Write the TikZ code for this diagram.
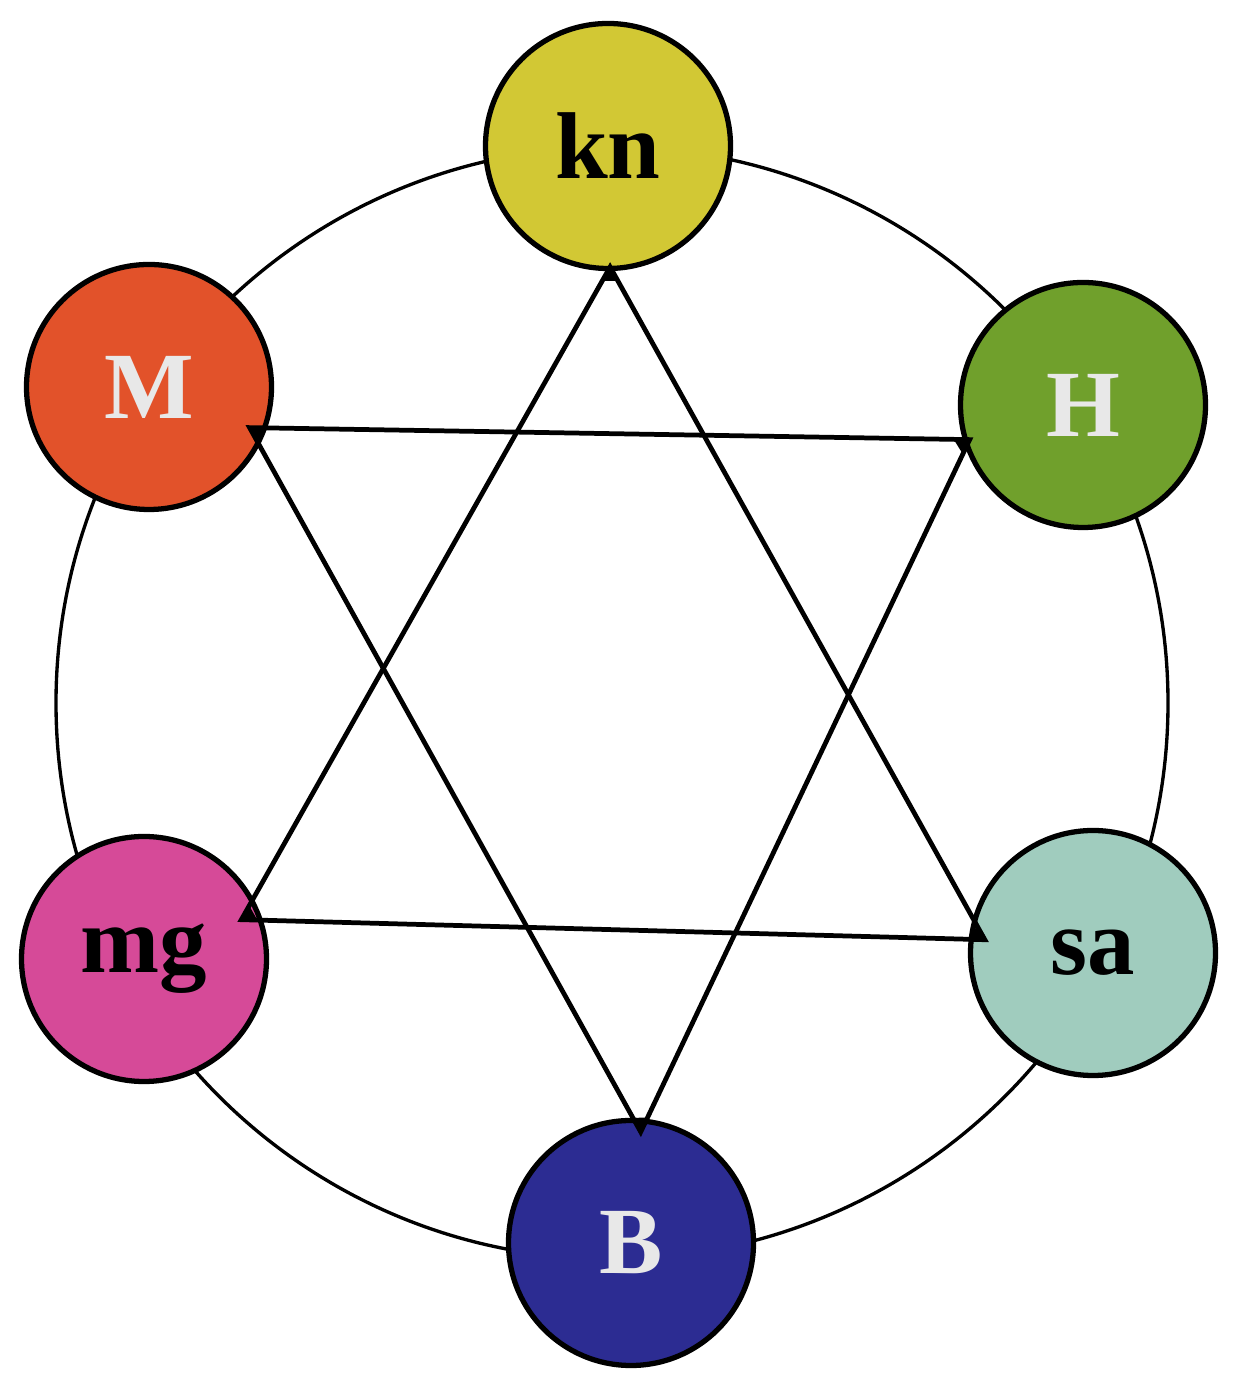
\documentclass[tikz,border=0pt]{standalone}
\usepackage{fontspec}
\setmainfont{Liberation Serif}
\usetikzlibrary{calc}
\definecolor{knyellow}{RGB}{210,200,52}
\definecolor{Mred}{RGB}{226,82,42}
\definecolor{Hgreen}{RGB}{112,160,44}
\definecolor{mgpink}{RGB}{214,74,152}
\definecolor{sateal}{RGB}{160,204,190}
\definecolor{Bblue}{RGB}{44,44,146}
\definecolor{lettergray}{RGB}{232,232,232}
\begin{document}
\begin{tikzpicture}[
		planet/.style={circle, draw=black, line width=3pt, minimum size=4.9cm, inner sep=0pt,
			font=\fontsize{54}{60}\selectfont\bfseries},
		star/.style={line width=2.7pt, line join=miter, miter limit=10}
	]
		\useasboundingbox[fill=white] (0,0) rectangle (24.78,27.8);
		\coordinate (c) at (12.24,13.74);
		\draw[line width=1.9pt] (c) circle (11.12);
		
		\node[planet, fill=knyellow] (kn) at (12.16,24.88) {kn};
		\node[planet, fill=Mred, text=lettergray] (M) at (2.98,20.06) {M};
		\node[planet, fill=Hgreen, text=lettergray] (H) at (21.66,19.70) {H};
		\node[planet, fill=mgpink] (mg) at (2.88,8.62) {mg};
		\node[planet, fill=sateal] (sa) at (21.86,8.74) {sa};
		\node[planet, fill=Bblue, text=lettergray] (B) at (12.62,2.94) {B};
		
		\coordinate (kntip) at ($(kn.center)+(-89:2.42)$);
		\coordinate (mgtip) at ($(mg.center)+(22:2.1)$);
		\coordinate (satip) at ($(sa.center)+(173:2.18)$);
		\coordinate (Mtip) at ($(M.center)+(-22:2.17)$);
		\coordinate (Htip) at ($(H.center)+(197:2.37)$);
		\coordinate (Btip) at ($(B.center)+(85:2.23)$);
		
		\draw[star] (kntip) -- (mgtip) -- (satip) -- cycle;
		\draw[star] (Mtip) -- (Htip) -- (Btip) -- cycle;
		
		% filled corners of the two triangles
		\foreach \t/\a/\b in {kntip/mgtip/satip, mgtip/satip/kntip, satip/kntip/mgtip,
			Mtip/Htip/Btip, Htip/Btip/Mtip, Btip/Mtip/Htip}
			\fill (\t) -- ($(\t)!0.32cm!(\a)$) -- ($(\t)!0.32cm!(\b)$) -- cycle;
	\end{tikzpicture}
\end{document}
